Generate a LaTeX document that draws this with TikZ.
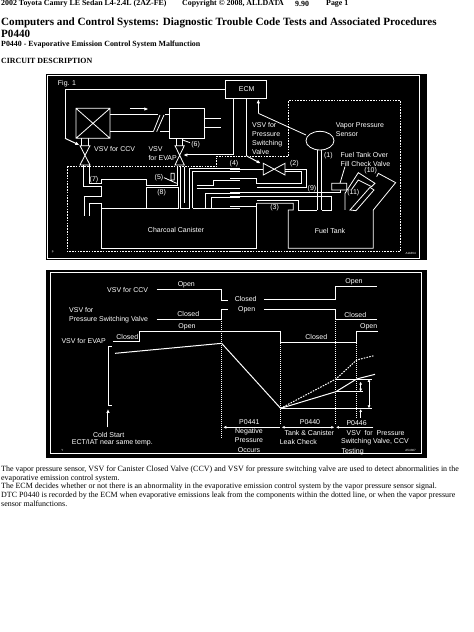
\documentclass[tikz,border=0pt]{standalone}
\usepackage{fontspec}
\setmainfont{Liberation Serif}
\newfontfamily\lsans{Liberation Sans}
\usetikzlibrary{arrows.meta}
\tikzset{
 wl/.style={draw=white,line width=0.8pt},
 dl/.style={draw=white,line width=0.8pt,dash pattern=on 1.6pt off 1.2pt},
 vl/.style={draw=white,line width=0.5pt,dash pattern=on 1pt off 1pt},
 ar/.style={draw=white,line width=1pt,-{Latex[length=4pt,width=3.5pt]}},
 lab/.style={text=white,font=\lsans\fontsize{7}{7.5}\selectfont,inner sep=0pt},
 labl/.style={lab,anchor=west,align=left},
 tiny/.style={text=white,font=\lsans\fontsize{3}{3}\selectfont,inner sep=0pt},
 hd/.style={anchor=west,inner sep=0pt,font=\bfseries\fontsize{7.9}{9}\selectfont},
 ttl/.style={anchor=west,inner sep=0pt,font=\bfseries\fontsize{11.1}{12}\selectfont},
 sub/.style={anchor=west,inner sep=0pt,font=\bfseries\fontsize{7.9}{9}\selectfont},
 body/.style={anchor=west,inner sep=0pt,font=\fontsize{7.98}{9}\selectfont},
 za/.style={shift={(40,70)},x=0.3333pt,y=-0.3333pt},
 zb/.style={shift={(230,70)},x=0.3333pt,y=-0.3333pt},
 zc/.style={shift={(40,265)},x=0.3333pt,y=-0.3333pt},
 zd/.style={shift={(230,265)},x=0.3333pt,y=-0.3333pt},
}
\begin{document}
\begin{tikzpicture}[x=1pt,y=-1pt]
\useasboundingbox (0,0) rectangle (474,632);
\fill[white] (0,0) rectangle (474,632);
% header
\node[hd] (h1) at (1,4) {2002 Toyota Camry LE Sedan L4-2.4L (2AZ-FE)};
\node[hd] (h2) at (182,4) {Copyright © 2008, ALLDATA};
\node[hd] (h3) at (295,4) {9.90};
\node[hd] (h4) at (326,4) {Page 1};
\node[ttl] (t1) at (1,23) {Computers and Control Systems: Diagnostic Trouble Code Tests and Associated Procedures};
\node[ttl] (t2) at (1,34) {P0440};
\node[sub] (s1) at (1,44.5) {P0440 - Evaporative Emission Control System Malfunction};
\node[sub] (s2) at (1,61) {CIRCUIT DESCRIPTION};
% panels
\fill[black] (46,74) rectangle (427,260);
\fill[black] (46,270) rectangle (427,458);
\draw[white,line width=0.7pt] (47.5,75.5) rectangle (419.5,258);
\draw[white,line width=0.7pt] (50,272) rectangle (421,453);
% top panel left
\begin{scope}[za]
\draw[wl] (555,58) -- (75,58) -- (75,205);
\draw[ar] (75,205) -- (118,225);
\draw[wl] (108,115) rectangle (210,205) (108,115) -- (210,205) (108,205) -- (210,115);
\draw[wl] (210,133) -- (355,133) (375,133) -- (387,133) (210,185) -- (340,185) (360,185) -- (387,185);
\draw[wl] (340,185) -- (360,135) (350,185) -- (372,135);
\draw[wl] (387,115) rectangle (492,205);
\draw[wl] (492,145) -- (543,145) (492,172) -- (543,172);
\draw[ar] (270,117) -- (325,117);
\draw[wl] (125,205) -- (125,227) (145,205) -- (145,227);
\draw[wl] (120,227) -- (150,227) -- (120,285) -- (150,285) -- cycle;
\draw[wl] (410,205) -- (410,227) (428,205) -- (428,227);
\draw[wl] (405,227) -- (433,227) -- (405,285) -- (433,285) -- cycle;
\draw[wl] (428,210) -- (450,218);
\draw[wl] (580,85) -- (580,255);
\draw[ar] (580,255) -- (430,255);
\draw[dl] (82,290) -- (530,290) -- (530,258) -- (600,258);
\draw[dl] (82,290) -- (82,545) -- (600,545);
\draw[wl] (130,285) -- (130,350) -- (185,350) (147,285) -- (147,340) -- (185,340);
\draw[wl] (132,380) -- (185,380) (132,380) -- (132,437) (147,400) -- (185,400) (147,400) -- (147,437);
\draw[wl] (185,340) -- (185,327) -- (318,327) -- (318,345) -- (412,345) -- (412,290);
\draw[wl] (185,350) -- (185,380) (185,400) -- (185,535) -- (600,535);
\draw[wl] (185,415) -- (415,415) -- (415,352) -- (318,352) -- (318,415);
\draw[wl] (422,290) -- (422,415) -- (447,415) -- (447,295) -- (600,295);
\draw[wl] (433,290) -- (433,400);
\draw[wl] (393,310) rectangle (403,330) (372,323) -- (410,340);
\draw[wl] (458,415) -- (458,305) -- (600,305);
\draw[wl] (470,345) -- (520,345) -- (520,330) -- (600,330);
\draw[wl] (470,355) -- (600,355);
\draw[wl] (495,415) -- (495,370) -- (600,370);
\draw[wl] (515,415) -- (515,382) -- (600,382);
\draw[wl] (458,415) -- (600,415);
\node[lab] (f1) at (81,41) {Fig. 1};
\node[labl] (n1) at (162,237) {VSV for CCV};
\node[labl,align=left] (n2) at (325,252) {VSV\\[1.5pt]for EVAP};
\node[lab] (n6) at (467,224) {(6)};
\node[lab] (n7) at (162,328) {(7)};
\node[lab] (n5) at (357,322) {(5)};
\node[lab] (n8) at (365,368) {(8)};
\node[lab] (n4) at (582,280) {(4)};
\node[lab] (nc) at (408,480) {Charcoal Canister};
\node[tiny] (np) at (38,545) {p};
\end{scope}
% top panel right
\begin{scope}[zb]
\draw[wl] (-15,30) rectangle (110,85);
\node[lab] (ecm) at (50,57) {ECM};
\draw[wl] (50,85) -- (50,258);
\draw[ar] (50,258) -- (92,280);
\draw[ar] (85,130) -- (85,88);
\draw[wl] (85,130) -- (228,195);
\draw[wl] (270,212) ellipse [x radius=42,y radius=28];
\draw[wl] (262,240) -- (262,420) (275,240) -- (275,420);
\draw[dl] (175,258) -- (175,92) -- (512,92) -- (512,545) -- (0,545);
\draw[dl] (0,258) -- (175,258);
\draw[wl] (0,297) -- (100,297) (165,297) -- (228,297) -- (228,352) -- (80,352);
\draw[wl] (165,305) -- (215,305) -- (215,340) -- (80,340) -- (80,325) -- (0,325);
\draw[wl] (100,280) -- (165,315) -- (165,280) -- (100,315) -- cycle;
\draw[wl] (0,368) -- (330,368) -- (330,360);
\draw[wl] (0,380) -- (305,380) -- (305,420) -- (275,420);
\draw[wl] (80,400) -- (190,400) -- (190,420) -- (175,420) -- (175,535) -- (430,535) -- (430,420) -- (497,338) -- (445,310) -- (440,320);
\draw[wl] (0,410) -- (80,410) -- (80,535) -- (0,535);
\draw[wl] (80,400) -- (80,410);
\draw[wl] (80,390) -- (205,390) -- (205,420) -- (262,420);
\draw[wl] (305,340) rectangle (350,360) (330,340) -- (345,290);
\draw[wl] (345,420) -- (345,370) -- (385,308) -- (435,340) -- (425,350) -- (385,330) -- (365,358);
\draw[wl] (360,420) -- (420,352) -- (432,360) -- (378,422) -- cycle;
\node[labl,align=left] (vp) at (317,180) {Vapor Pressure\\[1.5pt]Sensor};
\node[labl,align=left] (fv) at (331,268) {Fuel Tank Over\\[1.5pt]Fill Check Valve};
\node[labl,align=left] (ps) at (66,206) {VSV for\\[1.5pt]Pressure\\[1.5pt]Switching\\[1.5pt]Valve};
\node[lab] (n11) at (295,258) {(1)};
\node[lab] (n22) at (193,280) {(2)};
\node[lab] (n9) at (246,356) {(9)};
\node[lab] (n3) at (134,414) {(3)};
\node[lab] (n10) at (422,302) {(10)};
\node[lab] (n111) at (370,369) {(11)};
\node[lab] (nf) at (300,482) {Fuel Tank};
\node[tiny] (a1) at (542,550) {A11864};
\end{scope}
% bottom panel left
\begin{scope}[zc]
\draw[wl] (350,73) -- (545,73) -- (545,105) -- (565,105);
\draw[wl] (350,162) -- (545,162) -- (545,133) -- (565,133);
\draw[wl] (220,230) -- (297,230) -- (297,198) -- (690,198);
\draw[wl,line width=1pt] (225,265) -- (545,235);
\draw[wl,line width=1pt] (545,235) -- (722,430);
\draw[wl] (215,245) -- (205,245) -- (205,420) -- (215,420);
\draw[ar] (204,487) -- (204,432);
\draw[vl] (545,133) -- (545,520);
\draw[wl,-{Latex[length=3pt,width=3pt]}] (600,487) -- (550,487);
\node[lab] (a) at (263,74) {VSV for CCV};
\node[labl,align=left] (b) at (87,152) {VSV for\\[1.5pt]Pressure Switching Valve};
\node[lab] (c) at (131,227) {VSV for EVAP};
\node[lab] (d) at (439,59) {Open};
\node[lab] (e) at (445,147) {Closed};
\node[lab] (g) at (441,184) {Open};
\node[lab] (h) at (262,215) {Closed};
\node[lab] (i) at (206,510) {Cold Start};
\node[lab] (j) at (217,533) {ECT/IAT near same temp.};
\node[tiny] (k) at (67,555) {Y};
\end{scope}
% bottom panel right
\begin{scope}[zd]
\draw[wl] (103,103) -- (315,103) -- (315,65) -- (442,65);
\draw[wl] (103,133) -- (315,133) -- (315,162) -- (442,162);
\draw[wl] (0,198) -- (152,198) -- (152,232) -- (380,232) -- (380,198) -- (445,198);
\draw[wl,line width=1pt] (152,430) -- (318,380) -- (380,342) -- (435,328);
\draw[dl,line width=1pt] (152,430) -- (318,342) -- (380,285) -- (432,272);
\draw[wl] (152,430) -- (425,430) (318,380) -- (400,380) (318,342) -- (425,342);
\draw[white,line width=.7pt,{Latex[length=3pt,width=3pt]}-{Latex[length=3pt,width=3pt]}] (392,350) -- (392,380);
\draw[white,line width=.7pt,{Latex[length=3pt,width=3pt]}-{Latex[length=3pt,width=3pt]}] (417,342) -- (417,430);
\draw[white,line width=.7pt,-{Latex[length=3pt,width=3pt]}] (392,458) -- (392,432);
\draw[vl] (152,198) -- (152,480) (315,133) -- (315,480) (380,198) -- (380,460);
\draw[white,line width=.6pt] (0,487) -- (150,487);
\draw[white,line width=.6pt,{Latex[length=3pt,width=3pt]}-{Latex[length=3pt,width=3pt]}] (155,487) -- (313,487);
\draw[white,line width=.6pt,-{Latex[length=3pt,width=3pt]}] (430,487) -- (318,487);
\node[lab] (l1) at (47,103) {Closed};
\node[lab] (l2) at (50,135) {Open};
\node[lab] (l3) at (372,50) {Open};
\node[lab] (l4) at (376,149) {Closed};
\node[lab] (l5) at (416,184) {Open};
\node[lab] (l6) at (259,217) {Closed};
\node[lab] (p1) at (58,472) {P0441};
\node[lab] (p2) at (240,472) {P0440};
\node[lab] (p3) at (380,474) {P0446};
\node[lab] (m1) at (57,499) {Negative};
\node[lab] (m2) at (57,526) {Pressure};
\node[lab] (m3) at (57,554) {Occurs};
\node[lab] (m4) at (238,505) {Tank \& Canister};
\node[lab] (m5) at (205,530) {Leak Check};
\node[lab] (m6) at (437,503) {VSV\ \ for\ \ Pressure};
\node[lab] (m7) at (435,530) {Switching Valve, CCV};
\node[lab] (m8) at (368,560) {Testing};
\node[tiny] (a2) at (542,556) {A54387};
\end{scope}
% body
\node[body] (b1) at (1,470) {The vapor pressure sensor, VSV for Canister Closed Valve (CCV) and VSV for pressure switching valve are used to detect abnormalities in the};
\node[body] (b2) at (1,478.3) {evaporative emission control system.};
\node[body] (b3) at (1,487) {The ECM decides whether or not there is an abnormality in the evaporative emission control system by the vapor pressure sensor signal.};
\node[body] (b4) at (1,495.3) {DTC P0440 is recorded by the ECM when evaporative emissions leak from the components within the dotted line, or when the vapor pressure};
\node[body] (b5) at (1,503.7) {sensor malfunctions.};
\end{tikzpicture}
\end{document}
